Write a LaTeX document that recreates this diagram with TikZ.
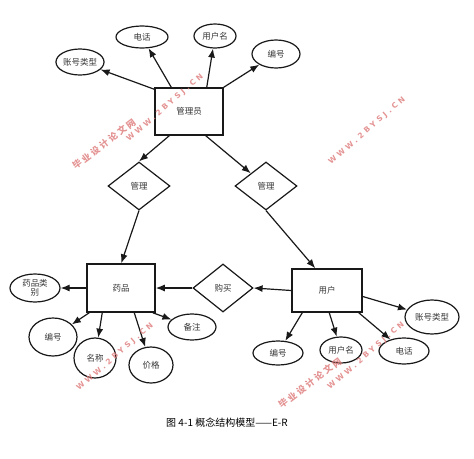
\documentclass[tikz,border=0pt]{standalone}
\usepackage{fontspec}
\newfontfamily\cjk{Noto Sans CJK SC}
\newfontfamily\wmcjk[LetterSpace=25]{Noto Sans CJK SC}
\newfontfamily\wmlat[LetterSpace=40]{DejaVu Sans}
\usetikzlibrary{shapes.geometric,arrows.meta}
\definecolor{wmred}{RGB}{222,120,120}
\definecolor{txt}{RGB}{55,55,55}
\definecolor{ln}{RGB}{25,25,25}
\tikzset{
  entity/.style={draw=ln, line width=1.5pt, rectangle, inner sep=0pt, text=txt},
  attr/.style={draw=ln, line width=1.2pt, ellipse, inner sep=0pt, text=txt, align=center},
  rel/.style={draw=ln, line width=1.2pt, diamond, inner sep=0pt, text=txt},
  arr/.style={draw=ln, line width=1.2pt, -{Latex[length=9pt,width=7pt]}},
  wmc/.style={text=wmred, opacity=0.8, font=\wmcjk\bfseries\fontsize{9}{10}\selectfont, inner sep=0pt},
  wml/.style={text=wmred, opacity=0.8, font=\wmlat\bfseries\fontsize{7.5}{9}\selectfont, inner sep=0pt}
}
\begin{document}
\begin{tikzpicture}[x=1pt,y=-1pt, font=\cjk\fontsize{8.5}{10}\selectfont]
\useasboundingbox[fill=white] (0,0) rectangle (474,458);

% admin
\node[entity, minimum width=68pt, minimum height=47pt] (admin) at (189,111.5) {管理员};
\node[attr, minimum width=48pt, minimum height=26pt] (a1) at (80,62) {账号类型};
\node[attr, minimum width=52pt, minimum height=22pt] (a2) at (142,37) {电话};
\node[attr, minimum width=42pt, minimum height=24pt] (a3) at (215,36) {用户名};
\node[attr, minimum width=48pt, minimum height=28pt] (a4) at (276,54) {编号};

% relations
\node[rel, minimum width=62pt, minimum height=48pt] (m1) at (139,186) {管理};
\node[rel, minimum width=62pt, minimum height=48pt] (m2) at (266,186) {管理};

% drug
\node[entity, minimum width=68pt, minimum height=48pt] (drug) at (121,288) {药品};
\node[rel, minimum width=60pt, minimum height=48pt] (buy) at (223,288) {购买};
\node[entity, minimum width=70pt, minimum height=43pt] (user) at (327,290.5) {用户};

\node[attr, minimum width=50pt, minimum height=28pt, font=\cjk\fontsize{8.5}{9.5}\selectfont] (d1) at (35,288) {药品类\\别};
\node[attr, minimum width=48pt, minimum height=38pt] (d2) at (53,337) {编号};
\node[attr, minimum width=42pt, minimum height=40pt] (d3) at (95,358) {名称};
\node[attr, minimum width=44pt, minimum height=36pt] (d4) at (151,365) {价格};
\node[attr, minimum width=48pt, minimum height=26pt] (d5) at (192,327) {备注};

\node[attr, minimum width=50pt, minimum height=24pt] (u1) at (278,353) {编号};
\node[attr, minimum width=42pt, minimum height=26pt] (u2) at (341,350) {用户名};
\node[attr, minimum width=50pt, minimum height=26pt] (u3) at (404,351) {电话};
\node[attr, minimum width=54pt, minimum height=34pt] (u4) at (432,317) {账号类型};

% connectors
\draw[arr] ([yshift=-2pt]admin.north west) -- (a1);
\draw[arr] ([xshift=17pt]admin.north west) -- (a2);
\draw[arr] ([xshift=-17pt]admin.north east) -- (a3);
\draw[arr] (admin.north east) -- (a4);
\draw[arr] ([xshift=15pt]admin.south west) -- (m1.north);
\draw[arr] ([xshift=-18pt]admin.south east) -- (m2);
\draw[arr] (m1.south) -- ([xshift=35pt]drug.north west);
\draw[arr] (m2.south) -- ([xshift=24pt]user.north west);
\draw[arr] (user.west) -- (buy.east);
\draw[arr] (buy.west) -- (drug.east);
\draw[arr] (drug.west) -- (d1.east);
\draw[arr] ([xshift=3pt]drug.south west) -- (d2);
\draw[arr] ([xshift=16pt]drug.south west) -- (d3);
\draw[arr] ([xshift=48pt]drug.south west) -- (d4);
\draw[arr] ([xshift=-3pt]drug.south east) -- (d5);
\draw[arr] ([xshift=11pt]user.south west) -- (u1);
\draw[arr] ([xshift=38pt]user.south west) -- (u2);
\draw[arr] ([xshift=-4pt]user.south east) -- (u3);
\draw[arr] ([yshift=-6pt]user.east) -- (u4);

% caption
\node[font=\cjk\fontsize{10}{12}\selectfont, text=black] (cap) at (227,423) {图 4-1 概念结构模型——E-R};

% watermarks
\node[wmc, rotate=37] (w1) at (104,144) {毕业设计论文网};
\node[wml, rotate=41] (w2) at (165,108) {WWW.2BYSJ.CN};
\node[wml, rotate=41] (w3) at (367,131) {WWW.2BYSJ.CN};
\node[wml, rotate=41] (w4) at (115,357) {WWW.2BYSJ.CN};
\node[wmc, rotate=37] (w5) at (310,383) {毕业设计论文网};
\node[wml, rotate=41] (w6) at (366,356) {WWW.2BYSJ.CN};
\end{tikzpicture}
\end{document}
